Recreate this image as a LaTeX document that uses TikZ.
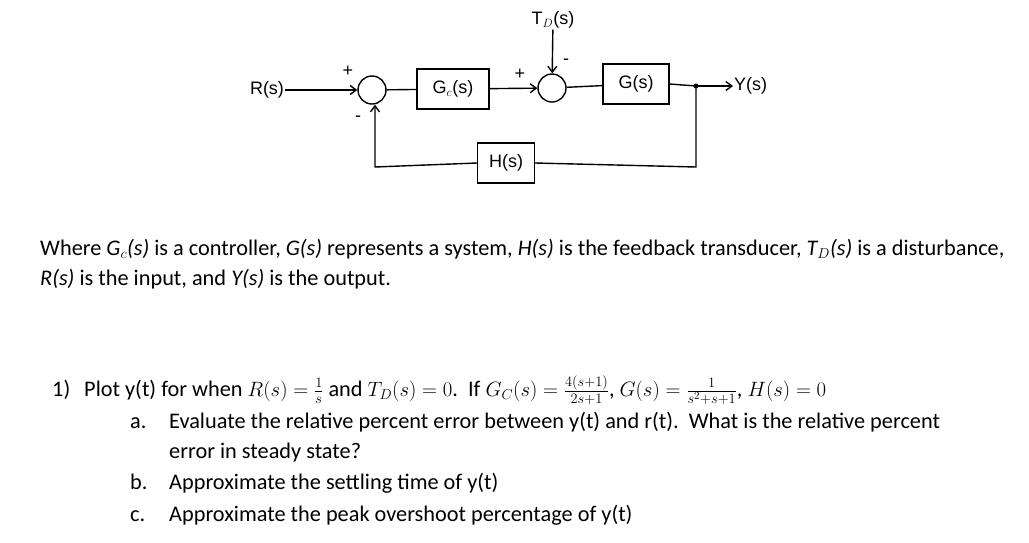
\documentclass[tikz,border=0pt]{standalone}
\usepackage{fontspec}
\setmainfont{Carlito}
\newfontfamily\hand{Liberation Sans}
\usetikzlibrary{arrows.meta}
\begin{document}
\begin{tikzpicture}[x=1pt,y=-1pt,
  blk/.style={draw,line width=1.4pt,minimum height=40pt,inner sep=2pt,font=\hand\fontsize{18}{18}\selectfont},
  sum/.style={draw,line width=1.4pt,circle,minimum size=28pt,inner sep=0pt},
  ln/.style={line width=1.4pt},
  arr/.style={ln,-{Straight Barb[length=6pt,width=9pt]}},
  hw/.style={font=\hand\fontsize{18}{18}\selectfont,inner sep=1pt},
  tx/.style={font=\fontsize{22.3}{26}\selectfont,anchor=base west,inner sep=0pt}]
\useasboundingbox (0,0) rectangle (1029,542);
\node[hw] (R) at (267,90) {R(s)};
\node[sum] (s1) at (372,90) {};
\node[blk,minimum width=72pt] (Gc) at (453,89) {G$_c$(s)};
\node[sum] (s2) at (552,88) {};
\node[hw] (TD) at (553,20) {T$_D$(s)};
\node[blk,minimum width=66pt] (G) at (636,84) {G(s)};
\node[blk,minimum width=57pt] (H) at (506,163) {H(s)};
\coordinate (d) at (696,86);
\node[hw,anchor=west] (Y) at (733,86) {Y(s)};
\coordinate (fb) at (696,167);
\coordinate (fl) at (375,167);
\draw[arr] (R) -- (s1);
\draw[ln] (s1) -- (Gc);
\draw[arr] (Gc) -- (s2);
\draw[arr] (TD) -- (s2);
\draw[ln] (s2) -- (G);
\draw[ln] (G.east) -- (d);
\draw[arr] (d) -- (Y);
\fill (d) circle (2.5pt);
\draw[ln] (d) -- (fb) -- (H.east);
\draw[arr] (H.west) -- (fl) -- (s1.south -| fl);
\node[hw] (p1) at (348,71) {+};
\node[hw] (m1) at (358,119) {-};
\node[hw] (p2) at (520,74) {+};
\node[hw] (m2) at (566,62) {-};
\node[tx] (t1) at (40,255) {Where \textit{G$_c$(s)} is a controller, \textit{G(s)} represents a system, \textit{H(s)} is the feedback transducer, \textit{T$_D$(s)} is a disturbance,};
\node[tx] (t2) at (40,285) {\textit{R(s)} is the input, and \textit{Y(s)} is the output.};
\node[tx] (q) at (52,396) {1)\hspace{14pt}Plot y(t) for when $R(s)=\frac{1}{s}$ and $T_D(s)=0$.\ \ If $G_C(s)=\frac{4(s+1)}{2s+1}$, $G(s)=\frac{1}{s^2+s+1}$, $H(s)=0$};
\node[tx] (a) at (130,428) {a.};
\node[tx] (a1) at (169,428) {Evaluate the relative percent error between y(t) and r(t).\ \ What is the relative percent};
\node[tx] (a2) at (169,458) {error in steady state?};
\node[tx] (b) at (130,489) {b.};
\node[tx] (b1) at (169,489) {Approximate the settling time of y(t)};
\node[tx] (c) at (130,521) {c.};
\node[tx] (c1) at (169,521) {Approximate the peak overshoot percentage of y(t)};
\end{tikzpicture}
\end{document}
